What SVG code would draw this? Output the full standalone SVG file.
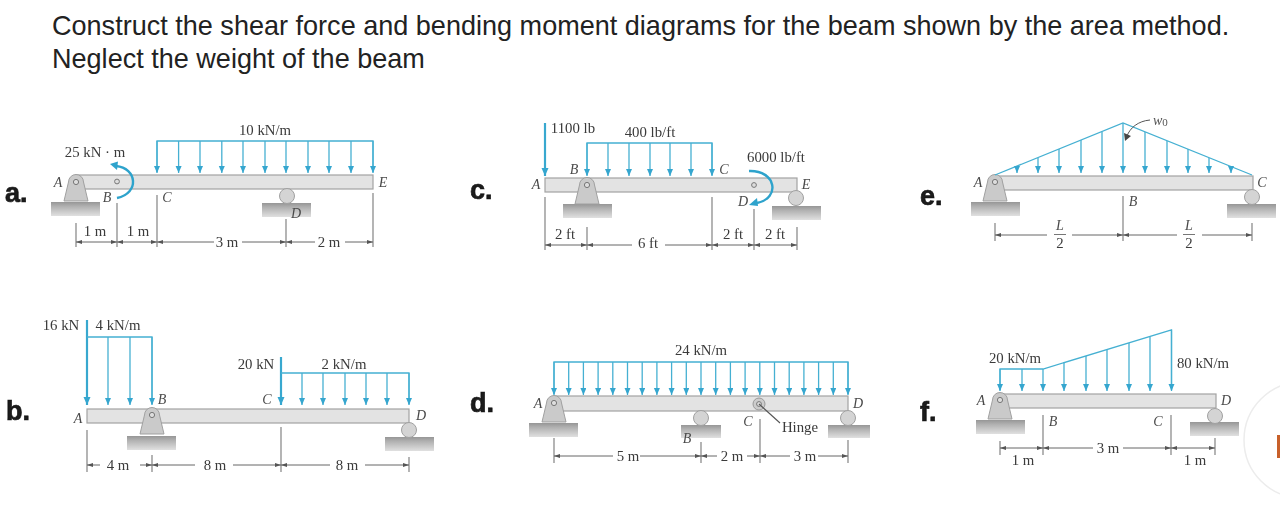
<svg xmlns="http://www.w3.org/2000/svg" xmlns:xlink="http://www.w3.org/1999/xlink" width="1280" height="531" viewBox="0 0 1280 531">
<style>
.title{font:27.05px "Liberation Sans",Arial,sans-serif;fill:#222}
.tag{font:bold 27px "Liberation Sans",Arial,sans-serif;fill:#1a1a1a;stroke:#1a1a1a;stroke-width:.7}
.t{font:14.8px "Liberation Serif","Times New Roman",serif;fill:#3a3a3a;text-anchor:middle}
.l{font:italic 14px "Liberation Serif","Times New Roman",serif;fill:#4a4a4a;text-anchor:middle}
.beam{fill:#e3e3e3;stroke:#a2a2a2;stroke-width:1.2}
.ld{fill:none;stroke:#45b0d2;stroke-width:1.3}
.a{stroke:#45b0d2;stroke-width:1.3;marker-end:url(#ba)}
.f{stroke:#38a8cf;stroke-width:2.2;marker-end:url(#bb)}
.m{fill:none;stroke:#2ea3cc;stroke-width:2.4}
.x{stroke:#777;stroke-width:1.1}
.d{stroke:#666;stroke-width:1;marker-end:url(#da)}
.dd{stroke:#666;stroke-width:1;marker-end:url(#da);marker-start:url(#da)}
</style>
<defs>
<marker id="ba" markerUnits="userSpaceOnUse" markerWidth="9" markerHeight="8" refX="7" refY="3" orient="auto"><path d="M0 0L7 3L0 6Z" fill="#35a6cf"/></marker>
<marker id="bb" markerUnits="userSpaceOnUse" markerWidth="10" markerHeight="9" refX="8" refY="3.5" orient="auto"><path d="M0 0L8 3.5L0 7Z" fill="#35a6cf"/></marker>
<marker id="da" markerUnits="userSpaceOnUse" markerWidth="7" markerHeight="6" refX="6" refY="2" orient="auto-start-reverse"><path d="M0 0L6 2L0 4Z" fill="#555"/></marker>
<linearGradient id="gr" x1="0" y1="0" x2="0" y2="1"><stop offset="0" stop-color="#969696"/><stop offset=".3" stop-color="#b0b0b0"/><stop offset="1" stop-color="#e0e0e0"/></linearGradient>
<g id="pin"><path d="M-12 19L-7.500 0A7.500 7.500 0 0 1 7.500 0L12 19Z" fill="#cacaca" stroke="#a0a0a0"/><circle r="2.6" fill="#ddd" stroke="#777"/></g>
<circle id="roller" r="7.5" fill="#d4d4d4" stroke="#a0a0a0"/>
<rect id="ground" width="49" height="14" fill="url(#gr)"/>
<filter id="soft" x="-2%" y="-2%" width="104%" height="104%"><feGaussianBlur stdDeviation="0.45"/></filter>
</defs>
<rect width="1280" height="531" fill="#fff"/>
<text class="title" x="52" y="35">Construct the shear force and bending moment diagrams for the beam shown by the area method.</text>
<text class="title" x="52" y="68">Neglect the weight of the beam</text>
<g filter="url(#soft)">

<g id="panel-a">
<text class="tag" x="5" y="202">a.</text>
<g id="a-beam"><rect class="beam" x="76" y="175" width="297" height="14"/><circle cx="117" cy="181.5" r="2.4" fill="#ddd" stroke="#777"/></g>
<g id="a-A"><use href="#ground" x="51" y="202"/><use href="#pin" x="76" y="182"/><text class="l" x="58" y="187">A</text></g>
<g id="a-B"><text class="l" x="107" y="202">B</text></g>
<g id="a-C"><text class="l" x="167" y="202">C</text></g>
<g id="a-D"><use href="#ground" x="262" y="203"/><use href="#roller" x="287" y="196"/><text class="l" x="296" y="218">D</text></g>
<g id="a-E"><text class="l" x="383" y="187">E</text></g>
<text class="t" x="95" y="157">25 kN · m</text><text class="t" x="265" y="135">10 kN/m</text>
<text class="t" x="95" y="236">1 m</text><text class="t" x="138" y="236">1 m</text><text class="t" x="227" y="247">3 m</text><text class="t" x="329" y="247">2 m</text>
</g>
<g id="connectors-a">
<path class="m" d="M116 166C137 168 140 193 117 198"/><path d="M110 164L118 161.500L117 170Z" fill="#2ea3cc"/>
<path class="ld" d="M157 172V141H373V172"/>
<line class="a" x1="157" y1="141" x2="157" y2="173"/><line class="a" x1="178.600" y1="141" x2="178.600" y2="173"/><line class="a" x1="200" y1="141" x2="200" y2="173"/><line class="a" x1="221.800" y1="141" x2="221.800" y2="173"/><line class="a" x1="243" y1="141" x2="243" y2="173"/><line class="a" x1="265" y1="141" x2="265" y2="173"/><line class="a" x1="286" y1="141" x2="286" y2="173"/><line class="a" x1="308" y1="141" x2="308" y2="173"/><line class="a" x1="329" y1="141" x2="329" y2="173"/><line class="a" x1="351" y1="141" x2="351" y2="173"/><line class="a" x1="373" y1="141" x2="373" y2="173"/>
<path class="x" fill="none" d="M76 223V247M117 203V247M157 195V247M286 219V247M373 193V247"/>
<line class="dd" x1="76" y1="242" x2="117" y2="242"/><line class="dd" x1="117" y1="242" x2="157" y2="242"/>
<line class="d" x1="214" y1="242" x2="157" y2="242"/><line class="d" x1="242" y1="242" x2="286" y2="242"/>
<line class="d" x1="315" y1="242" x2="286" y2="242"/><line class="d" x1="345" y1="242" x2="373" y2="242"/>
</g>

<g id="panel-c">
<text class="tag" x="470" y="199">c.</text>
<g id="c-beam"><rect class="beam" x="545" y="178" width="252" height="14"/><circle cx="754" cy="185" r="2.4" fill="#ddd" stroke="#777"/></g>
<g id="c-A"><text class="l" x="536" y="189">A</text></g>
<g id="c-B"><use href="#ground" x="563" y="204"/><use href="#pin" x="587" y="185"/><text class="l" x="574" y="174">B</text></g>
<g id="c-C"><text class="l" x="724" y="174">C</text></g>
<g id="c-D"><text class="l" x="743" y="206">D</text></g>
<g id="c-E"><use href="#ground" x="772" y="206"/><use href="#roller" x="796" y="198"/><text class="l" x="806" y="189">E</text></g>
<text class="t" x="573" y="133">1100 lb</text><text class="t" x="650" y="137">400 lb/ft</text><text class="t" x="776" y="162">6000 lb/ft</text>
<text class="t" x="565" y="239">2 ft</text><text class="t" x="648" y="248">6 ft</text><text class="t" x="733" y="239">2 ft</text><text class="t" x="775" y="239">2 ft</text>
</g>
<g id="connectors-c">
<line class="f" x1="545" y1="123" x2="545" y2="176"/>
<path class="m" d="M749 171C776 170 781 198 757 203"/><path d="M749 205L757 198L758 206Z" fill="#2ea3cc"/>
<path class="ld" d="M587 175V143H712V175"/>
<line class="a" x1="587" y1="143" x2="587" y2="176"/><line class="a" x1="608" y1="143" x2="608" y2="176"/><line class="a" x1="629" y1="143" x2="629" y2="176"/><line class="a" x1="650" y1="143" x2="650" y2="176"/><line class="a" x1="670" y1="143" x2="670" y2="176"/><line class="a" x1="691" y1="143" x2="691" y2="176"/><line class="a" x1="712" y1="143" x2="712" y2="176"/>
<path class="x" fill="none" d="M545 197V250M587 227V250M712 197V250M754 209V250M797 227V250"/>
<line class="dd" x1="545" y1="245" x2="587" y2="245"/><line class="d" x1="632" y1="245" x2="587" y2="245"/><line class="d" x1="665" y1="245" x2="712" y2="245"/>
<line class="dd" x1="712" y1="245" x2="754" y2="245"/><line class="dd" x1="754" y1="245" x2="797" y2="245"/>
</g>

<g id="panel-e">
<text class="tag" x="920" y="205">e.</text>
<g id="e-beam"><rect class="beam" x="995" y="176" width="258" height="14"/></g>
<g id="e-A"><use href="#ground" x="971" y="202"/><use href="#pin" x="995" y="182"/><text class="l" x="978" y="187">A</text></g>
<g id="e-B"><text class="l" x="1133" y="206">B</text></g>
<g id="e-C"><use href="#ground" x="1227" y="204"/><use href="#roller" x="1252" y="197"/><text class="l" x="1262" y="187">C</text></g>
<text x="1153" y="125" font-family="Liberation Serif, serif" font-size="14" font-style="italic" fill="#555">w<tspan font-size="11" font-style="normal" dy="1">0</tspan></text>
<text class="l" x="1060" y="230">L</text><text class="t" x="1060" y="248">2</text><text class="l" x="1189" y="230">L</text><text class="t" x="1189" y="248">2</text>
<path class="x" d="M1054 234.500H1066M1183 234.500H1195"/>
</g>
<g id="connectors-e">
<path class="ld" d="M995 175L1123 123L1252 175"/>
<line class="a" x1="1017" y1="166" x2="1017" y2="173"/><line class="a" x1="1038" y1="158" x2="1038" y2="173"/><line class="a" x1="1059" y1="149" x2="1059" y2="173"/><line class="a" x1="1081" y1="140" x2="1081" y2="173"/><line class="a" x1="1102" y1="132" x2="1102" y2="173"/><line class="a" x1="1123" y1="123" x2="1123" y2="173"/><line class="a" x1="1145" y1="132" x2="1145" y2="173"/><line class="a" x1="1167" y1="141" x2="1167" y2="173"/><line class="a" x1="1188" y1="149" x2="1188" y2="173"/><line class="a" x1="1209" y1="158" x2="1209" y2="173"/><line class="a" x1="1231" y1="166" x2="1231" y2="173"/>
<path fill="none" stroke="#555" stroke-width="1" d="M1150 120C1138 121 1130 128 1127 136"/><path d="M1125 141L1124 133L1131 136Z" fill="#444"/>
<path class="x" fill="none" d="M995 223V241M1123 196V241M1252 223V241"/>
<line class="d" x1="1047" y1="235" x2="995" y2="235"/><line class="d" x1="1072" y1="235" x2="1123" y2="235"/><line class="d" x1="1177" y1="235" x2="1123" y2="235"/><line class="d" x1="1202" y1="235" x2="1252" y2="235"/>
</g>

<g id="panel-b">
<text class="tag" x="6" y="420">b.</text>
<g id="b-beam"><rect class="beam" x="87" y="409" width="322" height="14"/></g>
<g id="b-A"><text class="l" x="78" y="423">A</text></g>
<g id="b-B"><use href="#ground" x="127" y="436"/><use href="#pin" x="152" y="415"/><text class="l" x="162" y="404">B</text></g>
<g id="b-C"><text class="l" x="267" y="404">C</text></g>
<g id="b-D"><use href="#ground" x="385" y="437"/><use href="#roller" x="409" y="430"/><text class="l" x="421" y="420">D</text></g>
<text class="t" x="61" y="330">16 kN</text><text class="t" x="118" y="330">4 kN/m</text><text class="t" x="256" y="369">20 kN</text><text class="t" x="344" y="369">2 kN/m</text>
<text class="t" x="118" y="470">4 m</text><text class="t" x="215" y="470">8 m</text><text class="t" x="347" y="470">8 m</text>
</g>
<g id="connectors-b">
<line class="f" x1="87" y1="320" x2="87" y2="405"/><line class="f" x1="281" y1="357" x2="281" y2="405"/>
<path class="ld" d="M87 337H152V404M281 373H409V404"/>
<line class="a" x1="108" y1="337" x2="108" y2="405"/><line class="a" x1="130" y1="337" x2="130" y2="405"/><line class="a" x1="152" y1="337" x2="152" y2="405"/>
<line class="a" x1="302" y1="373" x2="302" y2="405"/><line class="a" x1="323" y1="373" x2="323" y2="405"/><line class="a" x1="345" y1="373" x2="345" y2="405"/><line class="a" x1="366" y1="373" x2="366" y2="405"/><line class="a" x1="387" y1="373" x2="387" y2="405"/><line class="a" x1="409" y1="373" x2="409" y2="405"/>
<path class="x" fill="none" d="M87 430V472M152 455V472M281 427V472M409 457V472"/>
<line class="d" x1="100" y1="465" x2="87" y2="465"/><line class="d" x1="140" y1="465" x2="152" y2="465"/><line class="d" x1="195" y1="465" x2="152" y2="465"/><line class="d" x1="233" y1="465" x2="281" y2="465"/><line class="d" x1="330" y1="465" x2="281" y2="465"/><line class="d" x1="365" y1="465" x2="409" y2="465"/>
</g>

<g id="panel-d">
<text class="tag" x="470" y="412">d.</text>
<g id="d-beam"><rect class="beam" x="554" y="396" width="294" height="15"/></g>
<g id="d-A"><use href="#ground" x="529" y="423"/><use href="#pin" x="554" y="403"/><text class="l" x="538" y="408">A</text></g>
<g id="d-B"><rect x="681" y="425" width="40" height="13" fill="url(#gr)"/><use href="#roller" x="701" y="418"/><text class="l" x="687" y="443">B</text></g>
<g id="d-C"><circle cx="759" cy="404" r="6" fill="#ccc" stroke="#999"/><circle cx="759" cy="404" r="2.4" fill="#ddd" stroke="#777"/><text class="l" x="748" y="426">C</text></g>
<g id="d-D"><rect x="828" y="425" width="42" height="13" fill="url(#gr)"/><use href="#roller" x="848" y="418"/><text class="l" x="858" y="408">D</text></g>
<text class="t" x="701" y="355">24 kN/m</text><text class="t" x="800" y="432">Hinge</text>
<text class="t" x="628" y="461">5 m</text><text class="t" x="732" y="461">2 m</text><text class="t" x="805" y="461">3 m</text>
</g>
<g id="connectors-d">
<path class="ld" d="M554 394V362H848V394"/>
<line class="a" x1="554" y1="362" x2="554" y2="395"/><line class="a" x1="568.700" y1="362" x2="568.700" y2="395"/><line class="a" x1="583.400" y1="362" x2="583.400" y2="395"/><line class="a" x1="598.100" y1="362" x2="598.100" y2="395"/><line class="a" x1="612.800" y1="362" x2="612.800" y2="395"/><line class="a" x1="627.500" y1="362" x2="627.500" y2="395"/><line class="a" x1="642.200" y1="362" x2="642.200" y2="395"/><line class="a" x1="656.900" y1="362" x2="656.900" y2="395"/><line class="a" x1="671.600" y1="362" x2="671.600" y2="395"/><line class="a" x1="686.300" y1="362" x2="686.300" y2="395"/><line class="a" x1="701" y1="362" x2="701" y2="395"/><line class="a" x1="715.700" y1="362" x2="715.700" y2="395"/><line class="a" x1="730.400" y1="362" x2="730.400" y2="395"/><line class="a" x1="745.100" y1="362" x2="745.100" y2="395"/><line class="a" x1="759.800" y1="362" x2="759.800" y2="395"/><line class="a" x1="774.500" y1="362" x2="774.500" y2="395"/><line class="a" x1="789.200" y1="362" x2="789.200" y2="395"/><line class="a" x1="803.900" y1="362" x2="803.900" y2="395"/><line class="a" x1="818.600" y1="362" x2="818.600" y2="395"/><line class="a" x1="833.300" y1="362" x2="833.300" y2="395"/><line class="a" x1="848" y1="362" x2="848" y2="395"/>
<path stroke="#555" stroke-width="1.1" fill="none" d="M759 404L780 423"/>
<path class="x" fill="none" d="M554 438V463M701 442V463M760 419V463M848 440V463"/>
<line class="d" x1="613" y1="456" x2="554" y2="456"/><line class="d" x1="640" y1="456" x2="701" y2="456"/><line class="d" x1="717" y1="456" x2="701" y2="456"/><line class="d" x1="747" y1="456" x2="760" y2="456"/><line class="d" x1="790" y1="456" x2="760" y2="456"/><line class="d" x1="818" y1="456" x2="848" y2="456"/>
</g>

<g id="panel-f">
<text class="tag" x="920" y="421">f.</text>
<g id="f-beam"><rect class="beam" x="1000" y="394" width="216" height="14"/></g>
<g id="f-A"><use href="#ground" x="976" y="420"/><use href="#pin" x="1000" y="400"/><text class="l" x="981" y="405">A</text></g>
<g id="f-B"><text class="l" x="1053" y="426">B</text></g>
<g id="f-C"><text class="l" x="1158" y="426">C</text></g>
<g id="f-D"><use href="#ground" x="1190" y="422"/><use href="#roller" x="1215" y="416"/><text class="l" x="1226" y="405">D</text></g>
<text class="t" x="1015" y="363">20 kN/m</text><text class="t" x="1203" y="368">80 kN/m</text>
<text class="t" x="1023" y="465">1 m</text><text class="t" x="1108" y="453">3 m</text><text class="t" x="1195" y="465">1 m</text>
</g>
<g id="connectors-f">
<path class="ld" d="M1000 390V369H1043L1171.500 330V390"/>
<line class="a" x1="1000" y1="369" x2="1000" y2="391"/><line class="a" x1="1022" y1="369" x2="1022" y2="391"/><line class="a" x1="1043" y1="369" x2="1043" y2="391"/><line class="a" x1="1064" y1="363" x2="1064" y2="391"/><line class="a" x1="1086" y1="356" x2="1086" y2="391"/><line class="a" x1="1107" y1="350" x2="1107" y2="391"/><line class="a" x1="1129" y1="343" x2="1129" y2="391"/><line class="a" x1="1150" y1="337" x2="1150" y2="391"/><line class="a" x1="1171.500" y1="330" x2="1171.500" y2="391"/>
<path class="x" fill="none" d="M1000 441V455M1043 415V455M1171 415V455M1215 438V455"/>
<line class="dd" x1="1000" y1="448" x2="1043" y2="448"/><line class="d" x1="1093" y1="448" x2="1043" y2="448"/><line class="d" x1="1123" y1="448" x2="1171" y2="448"/><line class="dd" x1="1171" y1="448" x2="1215" y2="448"/>
</g>
</g>
<circle cx="1302" cy="440" r="58" fill="#fff" stroke="#ececec" stroke-width="1.500"/>
<rect x="1277" y="435" width="3" height="23" fill="#c8602a"/>
</svg>
